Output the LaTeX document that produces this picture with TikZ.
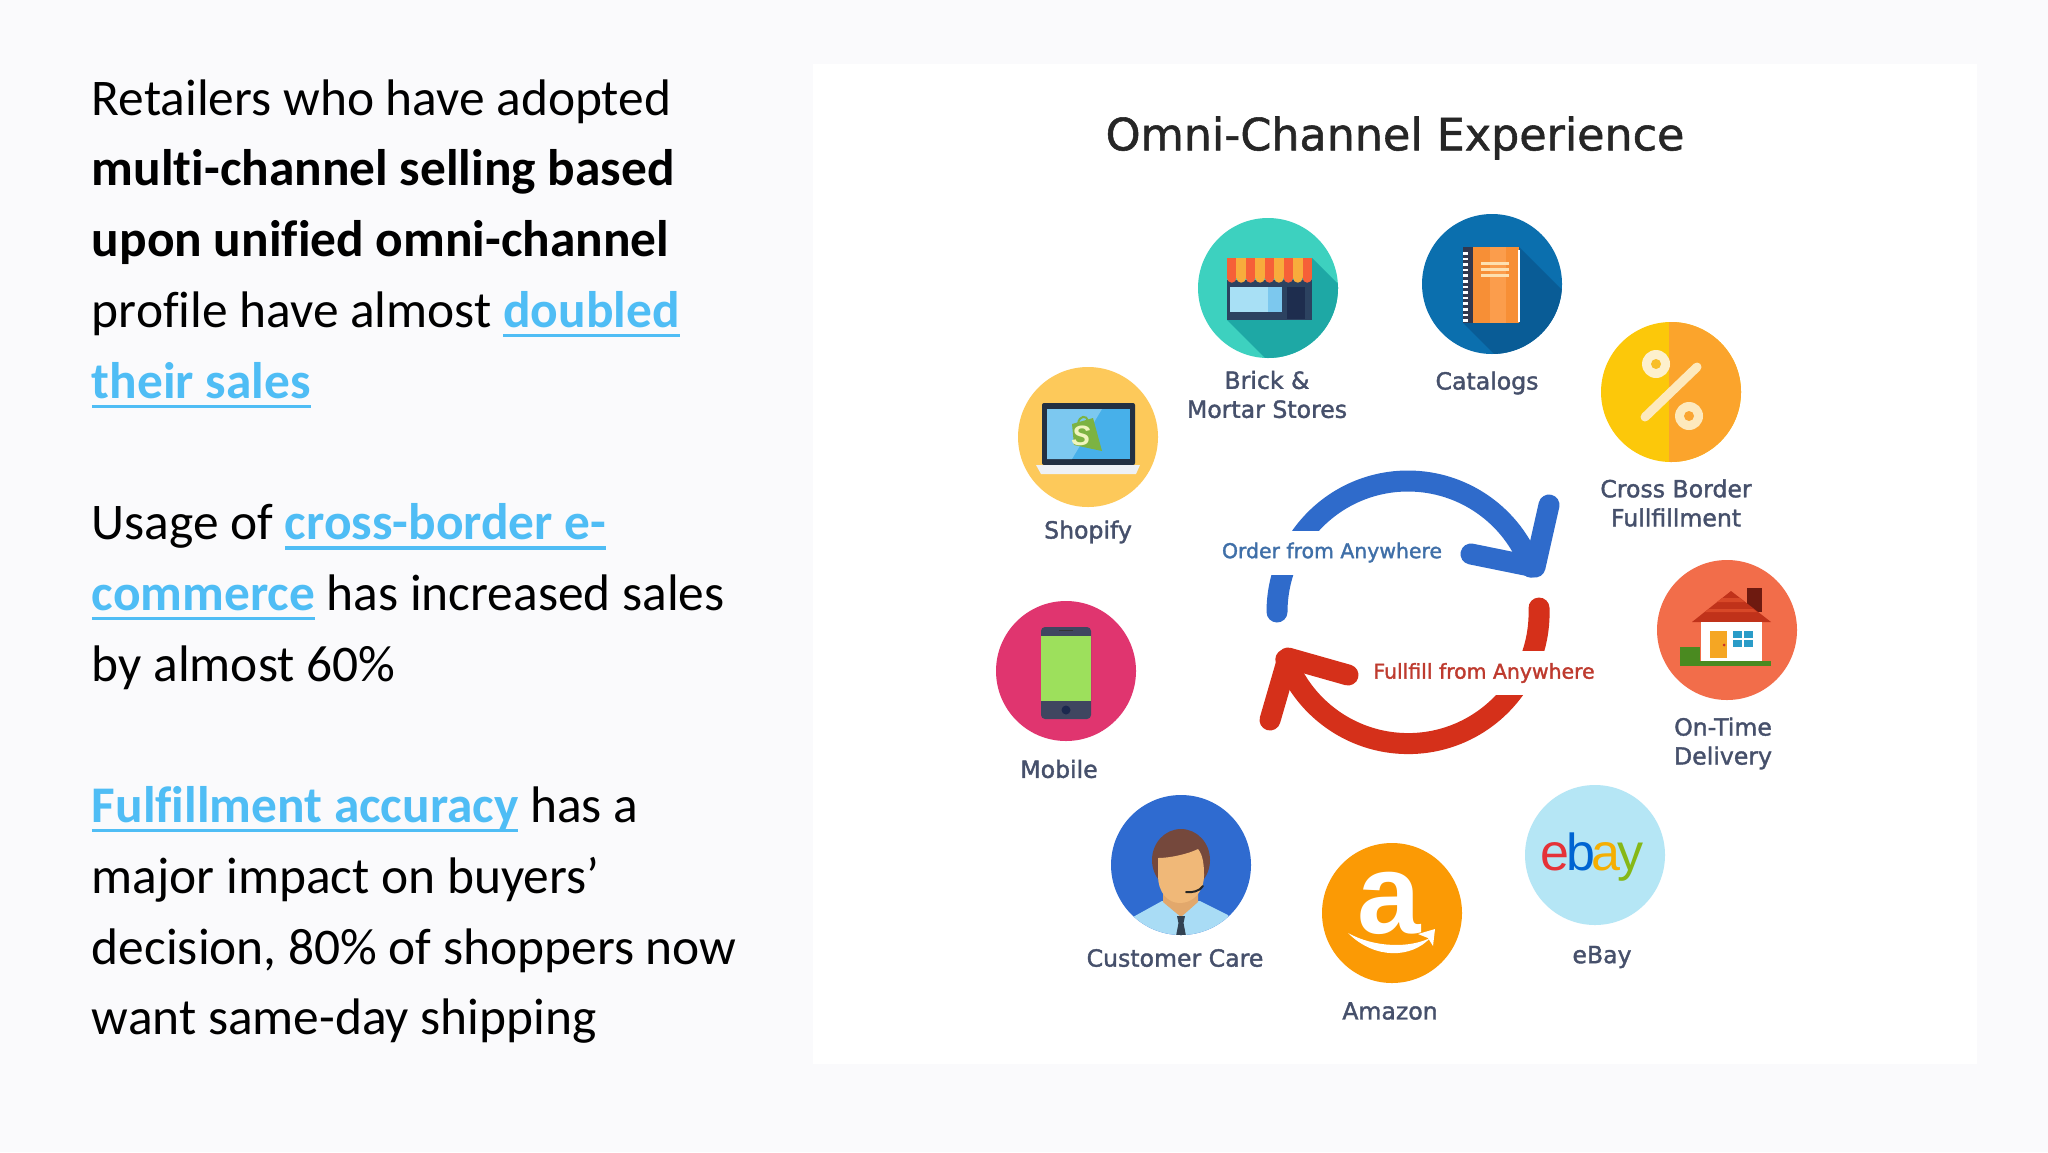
\documentclass[tikz,border=0pt]{standalone}
\usepackage{fontspec}
\setmainfont[Ligatures=NoCommon]{Carlito}
\newfontfamily\labfont[FakeBold=1.6]{DejaVu Sans}
\newfontfamily\titlefont[FakeBold=1.2]{DejaVu Sans}
\newfontfamily\logofont{Liberation Sans}
\definecolor{pagebg}{HTML}{FAFAFC}
\definecolor{linkblue}{HTML}{4FBDF5}
\definecolor{labelc}{HTML}{46506B}
\definecolor{arrowblue}{HTML}{2F6BCB}
\definecolor{arrowred}{HTML}{D5301A}
\definecolor{txtblue}{HTML}{3F6FA8}
\definecolor{txtred}{HTML}{BE3A2E}
\definecolor{awnA}{RGB}{246,96,56}
\definecolor{awnB}{RGB}{248,172,60}
\newcommand{\lnk}[1]{{\setbox0=\hbox{\bfseries #1}\color{linkblue}\rlap{\rule[-5pt]{\wd0}{1.8pt}}\box0}}
\tikzset{
  x=0.5pt,y=-0.5pt,
  txtline/.style={anchor=base west,inner sep=0pt,font=\fontsize{25.7pt}{30pt}\selectfont,text=black},
  icon/.style={circle,minimum size=70pt,inner sep=0pt,draw=none},
  lab/.style={inner sep=0pt,font=\labfont\fontsize{11.8pt}{14.5pt}\selectfont,text=labelc,align=center,anchor=center},
  turn/.style={line width=10.5pt,line cap=round,line join=round},
  headturn/.style={line width=10.5pt,line cap=round,line join=round},
  cutlabel/.style={fill=white,inner sep=0pt,minimum height=22pt,font=\labfont\fontsize{10.2pt}{12pt}\selectfont},
}
\begin{document}
\begin{tikzpicture}
\useasboundingbox (0,0) rectangle (2048,1152);
\fill[pagebg] (0,0) rectangle (2048,1152);
\node[anchor=north west,fill=white,minimum width=582pt,minimum height=500pt,inner sep=0pt] (panel) at (813,64) {};

% left text
\node[txtline] (l1) at (91.5,115) {Retailers who have adopted};
\node[txtline] (l2) at (91.5,185.8) {\bfseries multi-channel selling based};
\node[txtline] (l3) at (91.5,256.6) {\bfseries upon unified omni-channel};
\node[txtline] (l4) at (91.5,327.4) {profile have almost \lnk{doubled}};
\node[txtline] (l5) at (91.5,398.2) {\lnk{their sales}};
\node[txtline] (l6) at (91.5,539.8) {Usage of \lnk{cross-border e-}};
\node[txtline] (l7) at (91.5,610.2) {\lnk{commerce} has increased sales};
\node[txtline] (l8) at (91.5,681) {by almost 60\%};
\node[txtline] (l9) at (91.5,822.4) {\lnk{Fulfillment accuracy} has a};
\node[txtline] (l10) at (91.5,893.2) {major impact on buyers’};
\node[txtline] (l11) at (91.5,964) {decision, 80\% of shoppers now};
\node[txtline] (l12) at (91.5,1034.8) {want same-day shipping};

% title
\node[inner sep=0pt,font=\titlefont\fontsize{22.2pt}{25pt}\selectfont,text=black!85] (title) at (1395,138) {Omni-Channel Experience};

% --- Brick & Mortar
\node[icon,fill={rgb,255:red,61;green,209;blue,191}] (brick) at (1268,288) {};
\begin{scope}
\clip (brick.center) circle[radius=70];
\fill[fill={rgb,255:red,30;green,168;blue,165}] (1312,258) -- (1412,358) -- (1327,420) -- (1227,320) -- cycle;
\end{scope}
\fill[fill={rgb,255:red,44;green,66;blue,96}] (1227,280) rectangle (1312,320);
\fill[fill={rgb,255:red,168;green,224;blue,245}] (1230,287) rectangle (1268,312);
\fill[fill={rgb,255:red,124;green,200;blue,238}] (1268,287) rectangle (1282,312);
\fill[fill={rgb,255:red,30;green,45;blue,78}] (1287,287) rectangle (1305,319);
\foreach \i in {0,...,8}{
  \pgfmathsetmacro{\xa}{1227+9.44*\i}
  \pgfmathtruncatemacro{\parity}{mod(\i,2)}
  \ifnum\parity=0 \colorlet{awnC}{awnA}\else \colorlet{awnC}{awnB}\fi
  \fill[awnC] (\xa,258) rectangle (\xa+9.44,278);
  \fill[awnC] (\xa+4.72,278) circle[radius=4.72];
}
\node[lab] (brickl) at (1267,394.5) {Brick \&\\Mortar Stores};

% --- Catalogs
\node[icon,fill={rgb,255:red,11;green,111;blue,174}] (cat) at (1492,284) {};
\begin{scope}
\clip (cat.center) circle[radius=70];
\fill[fill={rgb,255:red,9;green,92;blue,150}] (1519,247) -- (1619,347) -- (1563,423) -- (1463,323) -- cycle;
\end{scope}
\fill[fill={rgb,255:red,50;green,56;blue,78}] (1463,247) rectangle (1474,323);
\foreach \i in {0,...,12}{\fill[white] (1462.5,252+5.6*\i) rectangle (1468,254.5+5.6*\i);}
\fill[fill={rgb,255:red,247;green,143;blue,54}] (1473,247) rectangle (1519,323);
\fill[fill={rgb,255:red,251;green,157;blue,76}] (1490,247) rectangle (1506,323);
\foreach \yy in {262,268,274}{\fill[fill={rgb,255:red,253;green,224;blue,176}] (1481,\yy) rectangle (1509,\yy+3);}
\fill[white] (1518,250) rectangle (1520,322);
\node[lab] (catl) at (1487,383) {Catalogs};

% --- Cross Border
\node[icon,fill={rgb,255:red,252;green,200;blue,10}] (cross) at (1671,392) {};
\begin{scope}
\clip (cross.center) circle[radius=70];
\fill[fill={rgb,255:red,251;green,164;blue,44}] (1669,310) rectangle (1750,470);
\end{scope}
\draw[line width=4.5pt,line cap=round,draw={rgb,255:red,253;green,233;blue,189}] (1645,417) -- (1697,367);
\fill[fill={rgb,255:red,253;green,240;blue,205}] (1656,364) circle[radius=14];
\fill[fill={rgb,255:red,248;green,190;blue,40}] (1656,364) circle[radius=5];
\fill[fill={rgb,255:red,253;green,233;blue,189}] (1689,416) circle[radius=14];
\fill[fill={rgb,255:red,250;green,165;blue,50}] (1689,416) circle[radius=5];
\node[lab] (crossl) at (1676,503) {Cross Border\\Fullfillment};

% --- Shopify
\node[icon,fill={rgb,255:red,253;green,201;blue,90}] (shop) at (1088,437) {};
\fill[fill={rgb,255:red,35;green,48;blue,66},rounded corners=1pt] (1042,403) rectangle (1135,465);
\fill[fill={rgb,255:red,71;green,176;blue,234}] (1047,409) rectangle (1130,459);
\fill[fill={rgb,255:red,124;green,200;blue,240}] (1047,409) -- (1102,409) -- (1072,459) -- (1047,459) -- cycle;
\fill[fill={rgb,255:red,238;green,241;blue,245}] (1036,465) -- (1140,465) -- (1136,474) -- (1041,474) -- cycle;
\fill[fill={rgb,255:red,124;green,179;blue,66}] (1072,424) -- (1093,418) -- (1102,451) -- (1074,445) -- cycle;
\draw[line width=1pt,draw={rgb,255:red,124;green,179;blue,66}] (1078,424) .. controls (1079,415) and (1087,415) .. (1088,421);
\node[inner sep=0pt,font=\logofont\bfseries\itshape\fontsize{14pt}{14pt}\selectfont,text={rgb,255:red,240;green,245;blue,190}] (shopS) at (1081,436) {S};
\node[lab] (shopl) at (1088,532) {Shopify};

% --- On-Time
\node[icon,fill={rgb,255:red,242;green,109;blue,74}] (home) at (1727,630) {};
\fill[fill={rgb,255:red,110;green,26;blue,16}] (1747,588) rectangle (1762,612);
\fill[fill={rgb,255:red,192;green,50;blue,26}] (1731,591) -- (1771,622) -- (1692,622) -- cycle;
\fill[fill={rgb,255:red,216;green,72;blue,40}] (1722,598) -- (1740,598) -- (1744,602) -- (1717,602) -- cycle;
\fill[fill={rgb,255:red,216;green,72;blue,40}] (1709,609) -- (1753,609) -- (1757,612) -- (1705,612) -- cycle;
\fill[white] (1701,622) rectangle (1762,663);
\fill[fill={rgb,255:red,245;green,166;blue,35}] (1710,631) rectangle (1727,658);
\fill[fill={rgb,255:red,200;green,50;blue,40}] (1724,645) circle[radius=1.5];
\fill[fill={rgb,255:red,42;green,156;blue,200}] (1733,631) rectangle (1753,647);
\draw[white,line width=0.8pt] (1743,631) -- (1743,647) (1733,639) -- (1753,639);
\fill[fill={rgb,255:red,74;green,138;blue,32}] (1680,661) rectangle (1771,666);
\fill[fill={rgb,255:red,74;green,138;blue,32}] (1680,647) rectangle (1700,661);
\node[lab] (homel) at (1723,743.5) {On-Time\\Delivery};

% --- Mobile
\node[icon,fill={rgb,255:red,224;green,53;blue,111}] (mob) at (1066,671) {};
\fill[fill={rgb,255:red,63;green,70;blue,96},rounded corners=2pt] (1041,627) rectangle (1091,719);
\fill[fill={rgb,255:red,157;green,224;blue,92}] (1041,636) rectangle (1091,701);
\fill[fill={rgb,255:red,28;green,40;blue,78}] (1066,710) circle[radius=4.5];
\draw[line width=0.8pt,black!80] (1059,630.5) -- (1073,630.5);
\node[lab] (mobl) at (1059,769) {Mobile};

% --- Customer Care
\node[icon,fill={rgb,255:red,47;green,107;blue,208}] (care) at (1181,865) {};
\begin{scope}
\clip (care.center) circle[radius=70];
\fill[fill={rgb,255:red,169;green,220;blue,245}] (1133,917) -- (1162,901) -- (1200,901) -- (1228,915) -- (1240,950) -- (1120,950) -- cycle;
\fill[fill={rgb,255:red,226;green,168;blue,108}] (1163,890) -- (1198,890) -- (1198,902) -- (1181,917) -- (1163,902) -- cycle;
\fill[fill={rgb,255:red,50;green,66;blue,82}] (1177,916) -- (1185,916) -- (1183.5,923) -- (1186,936) -- (1176,936) -- (1178.5,923) -- cycle;
\end{scope}
\fill[fill={rgb,255:red,117;green,72;blue,60}] (1181,860) ellipse[x radius=29,y radius=31];
\fill[fill={rgb,255:red,240;green,184;blue,120}] (1158,858) .. controls (1170,858) and (1188,854) .. (1198,849) .. controls (1203,855) and (1204,865) .. (1204,875) .. controls (1204,893) and (1192,903) .. (1180,903) .. controls (1168,903) and (1158,893) .. (1158,875) -- cycle;
\draw[line width=1pt,draw=black!85,line cap=round] (1186,892) .. controls (1192,893) and (1200,891) .. (1203,886);
\node[lab] (carel) at (1175,958) {Customer Care};

% --- Amazon
\node[icon,fill={rgb,255:red,251;green,154;blue,5}] (amz) at (1392,913) {};
\node[anchor=base,inner sep=0pt,text=white,font=\logofont\bfseries\fontsize{57pt}{57pt}\selectfont] (amzA) at (1389,933) {a};
\fill[white] (1348,933) .. controls (1375,948) and (1410,948) .. (1430,938) .. controls (1412,958) and (1375,960) .. cycle;
\fill[white] (1418,934) -- (1435,929) -- (1433,946) -- (1428,938) -- cycle;
\node[lab] (amzl) at (1390,1011) {Amazon};

% --- eBay
\node[icon,fill={rgb,255:red,181;green,230;blue,245}] (ebay) at (1595,855) {};
\node[anchor=base,inner sep=0pt,font=\logofont\fontsize{26pt}{26pt}\selectfont] (ebayt) at (1592,870) {\textcolor[HTML]{E53238}{e}\kern-1.6pt\textcolor[HTML]{0064D2}{b}\kern-1.6pt\textcolor[HTML]{F5AF02}{a}\kern-1.6pt\textcolor[HTML]{86B817}{y}};
\node[lab] (ebayl) at (1602,957) {eBay};

% --- central arrows
\draw[turn,arrowblue] (1277,612) arc[start angle=180,end angle=340,radius=131];
\draw[headturn,arrowblue] (1549,505) -- (1535,567) -- (1471,554);
\draw[turn,arrowred] (1539,608) arc[start angle=-2,end angle=159,radius=131];
\draw[headturn,arrowred] (1270,720) -- (1288,658) -- (1348,675);
\node[cutlabel,text=txtblue] (orderl) at (1332,552.5) {Order from Anywhere};
\node[cutlabel,text=txtred] (fulfl) at (1484,673) {Fullfill from Anywhere};
\end{tikzpicture}
\end{document}
